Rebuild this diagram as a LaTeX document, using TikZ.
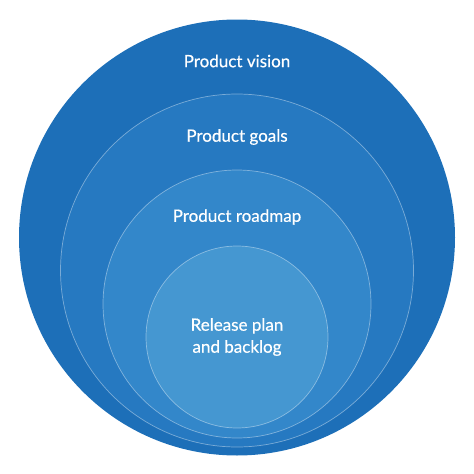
\documentclass[tikz,border=0pt]{standalone}
\usepackage{fontspec}
\setmainfont{Lato}[FakeBold=0.5]
\usepackage{tikz}

\definecolor{visionblue}{RGB}{29,111,184}
\definecolor{goalsblue}{RGB}{38,121,193}
\definecolor{roadblue}{RGB}{51,135,202}
\definecolor{releaseblue}{RGB}{69,151,209}

\begin{document}
\begin{tikzpicture}[x=1pt,y=-1pt,
		ring/.style={circle, inner sep=0pt, draw=white, draw opacity=0.4, line width=0.7pt},
		lbl/.style={text=white, font=\fontsize{17}{22}\selectfont, align=center}]
				\useasboundingbox (0,0) rectangle (474,474);
				\node [ring, draw=none, fill=visionblue, minimum size=436pt] (vision) at (237,237.5) {};
				\node [ring, fill=goalsblue, minimum size=353pt] (goals) at (237,270.5) {};
				\node [ring, fill=roadblue, minimum size=268pt] (roadmap) at (237,304) {};
				\node [ring, fill=releaseblue, minimum size=182pt] (release) at (237,337) {};
				\node [lbl] (vision_t) at (237,61) {Product vision};
				\node [lbl] (goals_t) at (237,137) {Product goals};
				\node [lbl] (roadmap_t) at (237,217) {Product roadmap};
				\node [lbl] (release_t) at (237,337) {Release plan\\and backlog};
			\end{tikzpicture}
\end{document}
